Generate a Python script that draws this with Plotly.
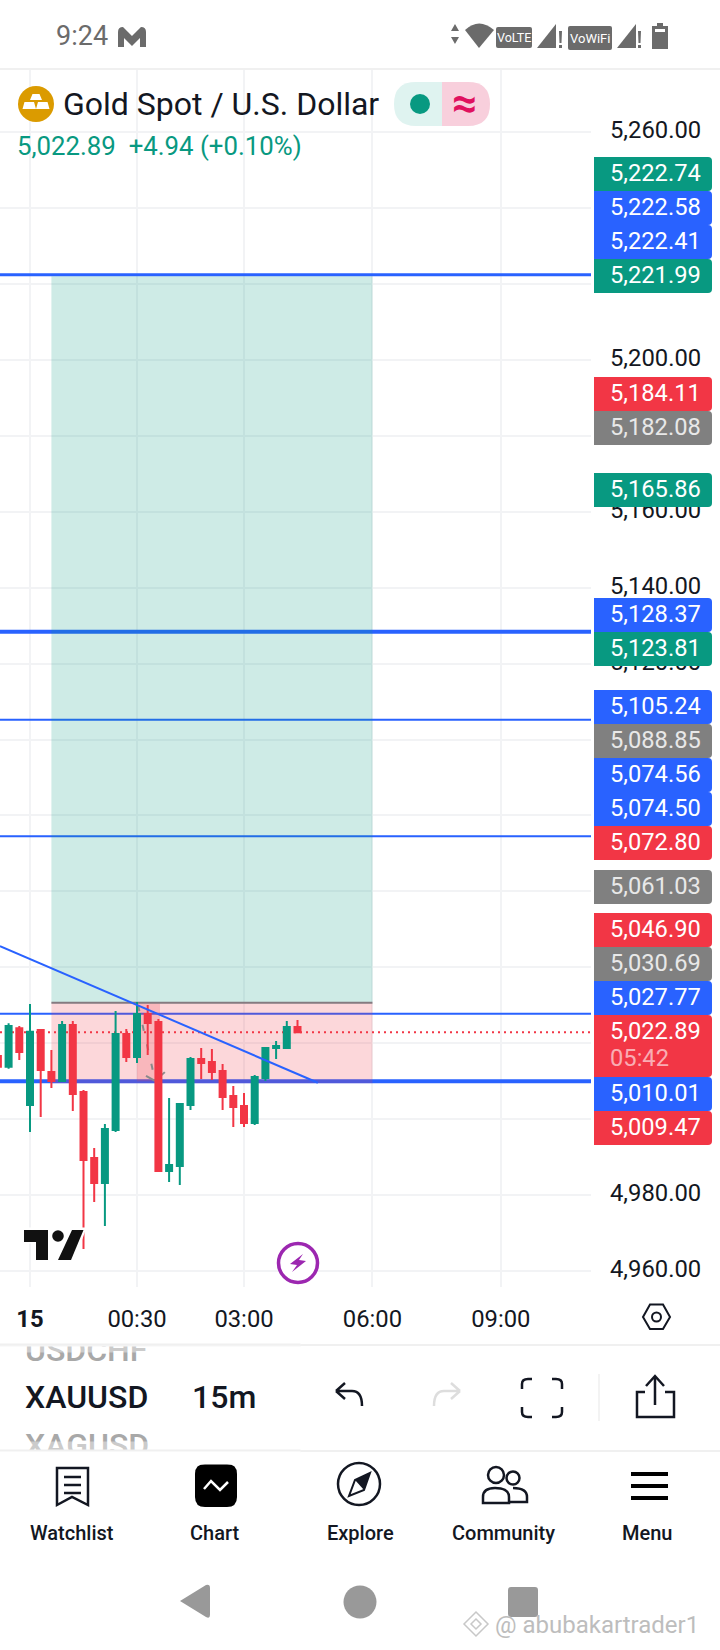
import re
import plotly.graph_objects as go

FONT = "Roboto"
INK = "#131722"
GREEN = "#089981"
RED = "#F23645"
BLUE = "#2962FF"
GREY = "#808080"
GRID = "#F2F3F5"
ICON = "#6B6B6B"

# candles, bar index 0 is the "15" tick
bars = list(range(-3, 26))
opens = [5016.65, 5013.84, 5023.93, 5003.74, 5023.49, 5012.43, 5010.06, 5024.81, 5007.16, 4989.78,
         4983.20, 4997.16, 5022.44, 5016.38, 5027.71, 5025.60, 4986.36, 4987.68, 5003.74, 5015.86,
         5015.07, 5012.70, 5006.11, 5003.48, 4999.00, 5010.85, 5018.75, 5018.75, 5024.28]
highs = [5017.00, 5025.25, 5024.55, 5030.34, 5023.49, 5018.23, 5025.86, 5025.86, 5007.69, 4992.42,
         4998.74, 5028.50, 5023.76, 5030.87, 5030.08, 5026.39, 5005.59, 5004.27, 5016.38, 5018.75,
         5018.49, 5014.54, 5008.75, 5006.90, 5011.64, 5018.75, 5020.60, 5025.86, 5026.13]
lows = [5013.50, 5013.31, 5015.59, 4996.63, 5000.58, 5008.22, 5010.06, 5002.16, 4965.82, 4978.19,
        4971.87, 4996.63, 5015.07, 5014.80, 5016.91, 4986.36, 4983.46, 4982.67, 5002.42, 5010.59,
        5010.33, 5002.42, 4997.95, 4997.95, 4998.47, 5010.06, 5015.86, 5018.75, 5022.89]
closes = [5013.84, 5024.55, 5017.70, 5023.06, 5012.96, 5010.06, 5024.81, 5006.64, 4989.26, 4983.20,
          4997.42, 5022.44, 5016.38, 5027.71, 5025.34, 4986.36, 4987.94, 5004.00, 5015.86, 5014.80,
          5012.43, 5005.85, 5003.21, 4999.00, 5011.12, 5018.75, 5019.28, 5024.28, 5022.89]

price_grid = [5260, 5240, 5220, 5200, 5180, 5160, 5140, 5120, 5100, 5080, 5060, 5040, 5020, 5000, 4980, 4960]
# the others sit fully behind the price tags
price_labels = [5260, 5200, 5160, 5140, 5120, 4980, 4960]
time_tick_bars = [0, 10, 20, 32, 44]
time_tick_labels = ["<b>15</b>", "00:30", "03:00", "06:00", "09:00"]

tag_values = [5222.74, 5222.58, 5222.41, 5221.99, 5184.11, 5182.08, 5165.86, 5128.37, 5123.81, 5105.24,
              5088.85, 5074.56, 5074.50, 5072.80, 5061.03, 5046.90, 5030.69, 5027.77, 5022.89, 5010.01, 5009.47]
tag_colors = [GREEN, BLUE, BLUE, GREEN, RED, GREY, GREEN, BLUE, GREEN, BLUE,
              GREY, BLUE, BLUE, RED, GREY, RED, GREY, BLUE, RED, BLUE, RED]
tag_tops = [157, 191, 225, 259, 377, 411, 473, 598, 632, 690, 724, 758, 792, 826, 870, 913, 947, 981, 1015, 1077, 1111]

hlines = [(5222.41, 3), (5128.37, 4), (5105.24, 2), (5074.50, 2), (5027.77, 2), (5010.01, 4)]

target_price = 5221.99
entry_price = 5030.69
stop_price = 5009.47
last_price = 5022.89
trend_bars = [-2.804, 26.9]
trend_prices = [5045.6, 5009.6]

nav_labels = ["Watchlist", "Chart", "Explore", "Community", "Menu"]
nav_centers = [72, 215, 360, 504, 647]

X_RANGE = [-2.804, 52.43]


def fx(x):
    return x / 720


def fy(y):
    return 1 - y / 1650


def P(d):
    # pixel path -> paper path, tokens alternate x y
    out = []
    is_x = True
    for tok in re.findall(r"[MLCQZ]|-?[\d.]+", d):
        if tok in "MLCQZ":
            out.append(tok)
        else:
            out.append(str(round(fx(float(tok)) if is_x else fy(float(tok)), 5)))
            is_x = not is_x
    return " ".join(out)


shapes = []
notes = []


def path(d, fill="rgba(0,0,0,0)", line=None, width=0):
    shapes.append(dict(type="path", path=P(d), xref="paper", yref="paper", fillcolor=fill,
                       line=dict(color=line or "rgba(0,0,0,0)", width=width), layer="above"))


def oval(cx, cy, rx, ry, fill="rgba(0,0,0,0)", line=None, width=0):
    shapes.append(dict(type="circle", xref="paper", yref="paper", x0=fx(cx - rx), x1=fx(cx + rx),
                       y0=fy(cy + ry), y1=fy(cy - ry), fillcolor=fill,
                       line=dict(color=line or "rgba(0,0,0,0)", width=width), layer="above"))


def note(x, y, text, size, color=INK, anchor="left", weight=400):
    notes.append(dict(x=fx(x), y=fy(y), xref="paper", yref="paper", text=text, showarrow=False,
                      xanchor=anchor, yanchor="middle", borderpad=0, borderwidth=0,
                      font=dict(family=FONT, size=size, color=color, weight=weight)))


def mask(x0, y0, x1, y1, color="#FFFFFF"):
    notes.append(dict(x=fx((x0 + x1) / 2), y=fy((y0 + y1) / 2), xref="paper", yref="paper", text=" ",
                      showarrow=False, width=x1 - x0, height=y1 - y0, bgcolor=color, borderpad=0,
                      xanchor="center", yanchor="middle", font=dict(size=1)))


def chart_line(x0, x1, p0, p1, color, width, dash="solid"):
    shapes.append(dict(type="line", xref="x", yref="y", x0=x0, x1=x1, y0=p0, y1=p1,
                       line=dict(color=color, width=width, dash=dash), layer="between"))


fig = go.Figure()

fig.add_trace(go.Candlestick(
    x=bars, open=opens, high=highs, low=lows, close=closes, whiskerwidth=0, showlegend=False,
    increasing=dict(line=dict(color=GREEN, width=2), fillcolor=GREEN),
    decreasing=dict(line=dict(color=RED, width=2), fillcolor=RED)))
fig.add_trace(go.Scatter(x=trend_bars, y=trend_prices, mode="lines", showlegend=False,
                         line=dict(color=BLUE, width=2)))
# only there so the label axis gets drawn
fig.add_trace(go.Scatter(x=[0] * len(price_labels), y=price_labels, yaxis="y2", mode="markers",
                         marker=dict(opacity=0), showlegend=False, hoverinfo="skip"))

# drawings on the chart
for price, w in hlines:
    chart_line(X_RANGE[0], X_RANGE[1], price, price, BLUE, w)
shapes.append(dict(type="rect", xref="x", yref="y", x0=2, x1=32, y0=entry_price, y1=target_price,
                   fillcolor="rgba(8,153,129,0.2)", line_width=0, layer="between"))
shapes.append(dict(type="rect", xref="x", yref="y", x0=2, x1=32, y0=stop_price, y1=entry_price,
                   fillcolor="rgba(242,54,69,0.2)", line_width=0, layer="between"))
shapes.append(dict(type="rect", xref="x", yref="y", x0=10, x1=12.15, y0=5010, y1=entry_price,
                   fillcolor="rgba(242,54,69,0.2)", line_width=0, layer="between"))
chart_line(2, 32, entry_price, entry_price, "#857A80", 2)
chart_line(X_RANGE[0], X_RANGE[1], last_price, last_price, RED, 2, "2px,4px")
chart_line(10.1, 11.7, 5030, 5010.1, "#8A8A8A", 2, "6px,14px")
chart_line(10.84, 11.68, 5011.4, 5010.07, "#8A8A8A", 2)
chart_line(11.68, 12.6, 5010.07, 5012.4, "#8A8A8A", 2)

# TradingView mark
path("M24 1230 L72 1230 L72 1260 L60 1260 L60 1241 L24 1241 Z M72 1230 L83 1230 L72 1260 L58 1260 Z", fill="#FFFFFF", line="#FFFFFF", width=5)
path("M24 1230 L48 1230 L48 1260 L36 1260 L36 1242 L24 1242 Z", fill="#111111")
path("M72 1230 L83.5 1230 L71 1260 L58 1260 Z", fill="#111111")
oval(58, 1236, 5.8, 5.8, fill="#111111")

# lightning badge
oval(298, 1263, 19.5, 19.5, fill="#FFFFFF", line="#9C27B0", width=3.5)
path("M303 1254 L290 1264 L297 1265 L292 1272 L306 1261 L299 1260 Z", fill="#9C27B0")

# header
shapes.append(dict(type="rect", xref="paper", yref="paper", x0=0, x1=1, y0=fy(69), y1=1,
                   fillcolor="#FFFFFF", line_width=0, layer="above"))
shapes.append(dict(type="rect", xref="paper", yref="paper", x0=0, x1=1, y0=fy(70), y1=fy(68),
                   fillcolor="#F0F0F0", line_width=0, layer="above"))
oval(36, 104, 18, 18, fill="#DB9B00")
path("M32.5 94 L39.5 94 L42 100 L30 100 Z", fill="#FFFFFF")
path("M24.5 102 L34 102 L36 109 L22.5 109 Z", fill="#FFFFFF")
path("M38 102 L47.5 102 L49.5 109 L36 109 Z", fill="#FFFFFF")
note(63, 104, "Gold Spot / U.S. Dollar", 32)
path("M442 82 L416 82 Q394 82 394 104 Q394 126 416 126 L442 126 Z", fill="#DFF3F0")
path("M442 82 L468 82 Q490 82 490 104 Q490 126 468 126 L442 126 Z", fill="#F8CFDC")
oval(420, 104, 10, 10, fill=GREEN)
note(464, 103, "≈", 44, color="#E0115F", anchor="center", weight=700)
note(16.5, 146, "5,022.89  +4.94 (+0.10%)", 25.8, color=GREEN)

# status bar
note(56, 36, "9:24", 27, color=ICON)
path("M118 32 Q118 27 123 27 L132 36 L141 27 Q146 27 146 32 L146 47 L140 47 L140 38 L132 46 L124 38 L124 47 L118 47 Z", fill=ICON)
path("M455 24 L459 31 L451 31 Z M451 37 L459 37 L455 44 Z", fill=ICON)
path("M465 30 Q479 17 494 30 L479 48 Z", fill=ICON)
path("M498 27 L530 27 Q532 27 532 29 L532 46 Q532 48 530 48 L498 48 Q496 48 496 46 L496 29 Q496 27 498 27 Z", fill=ICON)
note(514, 37.5, "VoLTE", 12.5, color="#FFFFFF", anchor="center")
path("M537 48 L556 24 L556 48 Z", fill=ICON)
path("M559 31 L562 31 L561.5 43 L559.5 43 Z M559 45 L562 45 L562 48 L559 48 Z", fill=ICON)
path("M570 26 L610 26 Q612 26 612 28 L612 48 Q612 50 610 50 L570 50 Q568 50 568 48 L568 28 Q568 26 570 26 Z", fill=ICON)
note(590, 38, "VoWiFi", 13, color="#FFFFFF", anchor="center")
path("M617 48 L636 24 L636 48 Z", fill=ICON)
path("M638 31 L641 31 L640.5 43 L638.5 43 Z M638 45 L641 45 L641 48 L638 48 Z", fill=ICON)
path("M657 23 L663 23 L663 26 L668 26 L668 49 L652 49 L652 26 L657 26 Z", fill=ICON)
path("M655 29 L665 29 L665 32 L655 32 Z", fill="#FFFFFF")

# price tags
for val, col, top in zip(tag_values, tag_colors, tag_tops):
    bottom = top + (62 if val == last_price else 34)
    path(f"M594 {top} L708 {top} Q712 {top} 712 {top + 4} L712 {bottom - 4} Q712 {bottom} 708 {bottom} L594 {bottom} Z", fill=col)
    txt = "#E8E8E8" if col == GREY else "#FFFFFF"
    note(610, top + 16, f"{val:,.2f}", 23.7, color=txt)
note(610, 1058, "05:42", 23.7, color="rgba(255,255,255,0.6)")

# hexagon next to the time scale
path("M650 1304.5 L663 1304.5 L670 1317 L663 1329 L650 1329 L643 1317 Z", line=INK, width=2)
oval(656.5, 1317, 4.5, 4.5, line=INK, width=2)

# symbol row
shapes.append(dict(type="rect", xref="paper", yref="paper", x0=0, x1=1, y0=fy(1346), y1=fy(1344),
                   fillcolor="#F0F0F0", line_width=0, layer="above"))
shapes.append(dict(type="rect", xref="paper", yref="paper", x0=0, x1=1, y0=fy(1452), y1=fy(1450),
                   fillcolor="#F0F0F0", line_width=0, layer="above"))
note(25, 1350, "USDCHF", 32, color="#A8A8A8", weight=500)
mask(0, 1328, 300, 1344)
mask(0, 1344, 300, 1346, "#F0F0F0")
mask(0, 1346, 300, 1352, "rgba(255,255,255,0.4)")
note(25, 1445, "XAGUSD", 32, color="#A8A8A8", weight=500)
mask(0, 1442, 300, 1450, "rgba(255,255,255,0.4)")
mask(0, 1450, 300, 1452, "#F0F0F0")
mask(0, 1452, 300, 1464)
note(25, 1397, "XAUUSD", 32, weight=500)
note(192, 1397, "15m", 32, weight=500)

path("M336 1391 L345 1383 M336 1391 L345 1399 M336 1391 L352 1391 Q362 1391 362 1406", line=INK, width=2.5)
path("M460 1391 L451 1383 M460 1391 L451 1399 M460 1391 L444 1391 Q434 1391 434 1406", line="#DDDDDD", width=2.5)
path("M522 1389 L522 1384 Q522 1379 528 1379 L532 1379 M552 1379 L556 1379 Q562 1379 562 1384 L562 1389 "
     "M562 1407 L562 1412 Q562 1417 556 1417 L552 1417 M532 1417 L528 1417 Q522 1417 522 1412 L522 1407", line=INK, width=2.5)
path("M599 1374 L599 1421", line="#EFEFEF", width=1.5)
path("M655 1377 L655 1405 M646 1386 L655 1376 L664 1386 M645 1392 L637 1392 L637 1417 L674 1417 L674 1392 L665 1392", line=INK, width=2.5)

# bottom navigation
path("M57 1468 L88 1468 L88 1505 L72 1497 L57 1505 Z", line=INK, width=2.5)
path("M64 1477 L81 1477 M64 1485 L81 1485 M64 1493 L81 1493", line=INK, width=2.5)
path("M205 1464 L227 1464 Q237 1464 237 1474 L237 1497 Q237 1507 227 1507 L205 1507 Q195 1507 195 1497 L195 1474 Q195 1464 205 1464 Z", fill="#000000")
path("M204 1489 L211 1481 L220 1490 L228 1482", line="#FFFFFF", width=2.5)
oval(359, 1484, 21, 21, line=INK, width=2.5)
path("M370 1473 L364 1490 L349 1496 L355 1480 Z", line=INK, width=2)
path("M370 1473 L364 1490 L355 1480 Z", fill=INK)
oval(496, 1475, 8, 8, line=INK, width=2.5)
oval(513, 1478, 6.5, 6.5, line=INK, width=2.5)
path("M483 1503 L483 1497 Q483 1488 495 1488 Q509 1488 509 1497 L509 1503 Z", line=INK, width=2.5)
path("M513 1488 Q527 1488 527 1497 L527 1502 L510 1502", line=INK, width=2.5)
for bar_y in [1472, 1484, 1496]:
    path(f"M631 {bar_y} L668 {bar_y} L668 {bar_y + 4} L631 {bar_y + 4} Z", fill="#000000")
for label, cx in zip(nav_labels, nav_centers):
    note(cx, 1533, label, 20, anchor="center", weight=500)

# android buttons
path("M180 1601 L206 1585 Q210 1584 210 1588 L210 1615 Q210 1619 206 1617 Z", fill="#999999")
oval(360, 1602, 16.5, 16.5, fill="#999999")
path("M511 1587 L535 1587 Q538 1587 538 1590 L538 1614 Q538 1617 535 1617 L511 1617 Q508 1617 508 1614 L508 1590 Q508 1587 511 1587 Z", fill="#999999")

# watermark
path("M476 1612 L488 1624 L476 1636 L464 1624 Z M476 1619 L481 1624 L476 1629 L471 1624 Z", line="#C8C8C8", width=1.5)
note(495, 1625, "@ abubakartrader1", 24, color="#BDBDBD")

fig.update_layout(
    width=720, height=1650, margin=dict(l=0, r=0, t=0, b=0),
    paper_bgcolor="#FFFFFF", plot_bgcolor="#FFFFFF", showlegend=False, boxgap=0.2,
    font=dict(family=FONT, color=INK),
    shapes=shapes, annotations=notes,
    xaxis=dict(domain=[0, 591 / 720], range=X_RANGE, rangeslider=dict(visible=False),
               tickmode="array", tickvals=time_tick_bars, ticktext=time_tick_labels,
               showgrid=True, gridcolor=GRID, gridwidth=2, zeroline=False, showline=False,
               ticks="", ticklabelstandoff=15, tickfont=dict(family=FONT, size=23.8, color=INK),
               anchor="y"),
    yaxis=dict(domain=[1 - 1287 / 1650, 1 - 68 / 1650], range=[4955.81, 5276.86],
               tickmode="array", tickvals=price_grid, showticklabels=False,
               showgrid=True, gridcolor=GRID, gridwidth=2, zeroline=False, showline=False,
               ticks="", anchor="x"),
    # labels sit about 2px above their grid lines, so they get their own axis
    yaxis2=dict(domain=[1 - 1287 / 1650, 1 - 68 / 1650], range=[4955.26, 5276.31], side="right",
                overlaying="y", anchor="x", tickmode="array", tickvals=price_labels, tickformat=",.2f",
                showgrid=False, zeroline=False, showline=False, ticks="", ticklabelstandoff=18,
                tickfont=dict(family=FONT, size=23.8, color=INK)),
)

fig.write_html("out.html", config=dict(displayModeBar=False),
               post_script="document.body.style.margin='0';")
